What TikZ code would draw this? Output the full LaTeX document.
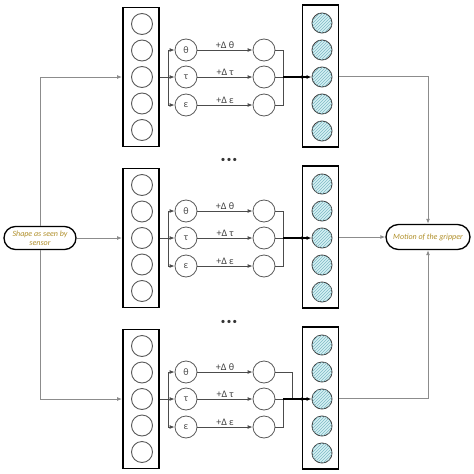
\documentclass[tikz,border=0pt]{standalone}
\usepackage{fontspec}
\setmainfont{Carlito}
\usetikzlibrary{arrows.meta,patterns,shapes.misc}
\definecolor{gold}{HTML}{B08F2A}
\definecolor{hatchfill}{HTML}{D6F1F4}
\definecolor{hatchline}{HTML}{7DB9C4}
\begin{document}
\begin{tikzpicture}[x=1pt,y=-1pt,
  layer/.style={draw=black, line width=1.8pt, minimum width=36pt, inner sep=0pt},
  neuron/.style={circle, draw=black!65, line width=0.9pt, minimum size=21pt, inner sep=0pt},
  outneuron/.style={circle, draw=black!75, line width=0.9pt, minimum size=20pt, inner sep=0pt,
     fill=hatchfill, postaction={pattern=north east lines, pattern color=hatchline}},
  param/.style={circle, draw=black!65, line width=0.8pt, minimum size=22pt, inner sep=0pt,
     font=\fontsize{10}{11}\selectfont, text=black!70},
  arr/.style={-{Latex[length=5pt,width=4pt]}},
  feed/.style={draw=black!45, line width=1pt},
  link/.style={draw=black!70, line width=0.9pt},
  main/.style={draw=black, line width=1.3pt},
  lbl/.style={font=\fontsize{10}{11}\selectfont, text=black!75, inner sep=1pt},
  io/.style={rounded rectangle, draw=black, line width=1.3pt, inner sep=1pt,
     font=\fontsize{8}{9}\selectfont\itshape, text=gold, align=center},
  dots/.style={font=\fontsize{9}{9}\selectfont, text=black!80}
]
\useasboundingbox (0,0) rectangle (474,474);

\foreach \r/\c/\mx in {1/77/283, 2/238/283, 3/399/292} {
  % input layer
  \node[layer, minimum height=139pt] (L\r) at (141,\c) {};
  \foreach \i/\d in {1/-53,2/-26.5,3/0,4/26.5,5/53}
    \node[neuron] (L\r n\i) at (142,\c+\d) {};
  % output layer
  \node[layer, minimum height=142pt] (R\r) at (320.5,\c-1) {};
  \foreach \i/\d in {1/-54,2/-27,3/0,4/27,5/54}
    \node[outneuron] (R\r n\i) at (322,\c+\d) {};
  % parameters
  \node[param] (P\r a) at (186,\c-27) {θ};
  \node[param] (P\r b) at (186,\c) {τ};
  \node[param] (P\r c) at (186,\c+28) {ε};
  \node[param] (Q\r a) at (264,\c-27) {};
  \node[param] (Q\r b) at (264,\c) {};
  \node[param] (Q\r c) at (264,\c+28) {};
  % branch
  \coordinate (B\r) at (168,\c);
  \draw[link] (L\r.east) -- (B\r);
  \draw[link,arr] (B\r) |- (P\r a);
  \draw[link,arr] (B\r) -- (P\r b);
  \draw[link,arr] (B\r) |- (P\r c);
  % increments
  \draw[link,arr] (P\r a) -- node[lbl,above]{+Δ θ} (Q\r a);
  \draw[link,arr] (P\r b) -- node[lbl,above]{+Δ τ} (Q\r b);
  \draw[link,arr] (P\r c) -- node[lbl,above]{+Δ ε} (Q\r c);
  % merge
  \coordinate (M\r) at (\mx,\c);
  \coordinate (N\r) at (283,\c);
  \draw[link] (Q\r a) -| (M\r);
  \draw[link] (Q\r c) -| (N\r);
  \draw[link] (Q\r b) -- (N\r);
  \draw[main,-{Latex[length=5pt,width=4pt]Latex[length=5pt,width=4pt]}] (N\r) -- (R\r n3.west);
}

\node[dots] (d1) at (229,160) {\textbullet\,\textbullet\,\textbullet};
\node[dots] (d2) at (229,322) {\textbullet\,\textbullet\,\textbullet};

\node[io, minimum width=74pt, minimum height=23pt, fill=white] (S) at (40,238) {Shape as seen by\\sensor};
\node[io, minimum width=86pt, minimum height=25pt] (G) at (428,237) {Motion of the gripper};

\draw[feed,arr] (S.north) |- (L1.west);
\draw[feed,arr] (S.east) -- (L2.west);
\draw[feed,arr] (S.south) |- (L3.west);
\draw[feed,arr] (R1.east) -| (G.north);
\draw[feed,arr] (R2.east) -- (G.west);
\draw[feed,arr] (R3.east) -| (G.south);
\end{tikzpicture}
\end{document}
